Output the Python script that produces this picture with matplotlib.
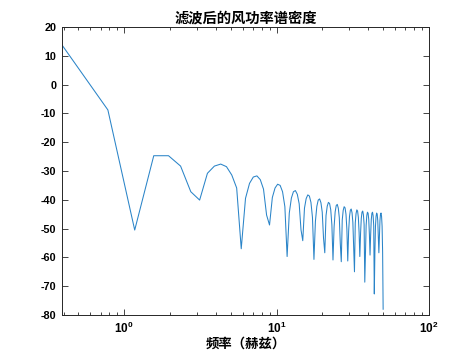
import numpy as np
import matplotlib
matplotlib.use('Agg')
import matplotlib.pyplot as plt

# filtered wind power spectral density, one value per frequency bin (dB)
fs = 100.0
nfft = 256
psd_db = [13.75, -8.8, -50.5, -24.7, -24.7, -28.3, -37.2, -40.1, -30.8, -28.3,
          -27.6, -28.5, -31.4, -35.9, -57.0, -39.5, -34.3, -32.1, -31.7, -33.0,
          -36.3, -45.3, -48.75, -39.2, -35.9, -34.6, -35.0, -37.2, -42.4, -59.7,
          -44.6, -39.4, -37.2, -36.8, -38.1, -41.4, -50.4, -54.2, -42.9, -39.6,
          -38.3, -38.7, -40.9, -46.1, -60.7, -47.5, -42.3, -40.1, -39.7, -41.0,
          -44.3, -53.3, -58.4, -45.5, -42.2, -40.9, -41.3, -43.5, -48.7, -60.9,
          -49.4, -44.2, -42.0, -41.6, -42.9, -46.2, -55.2, -61.5, -47.0, -43.7,
          -42.4, -42.8, -45.0, -50.2, -61.25, -51.0, -45.8, -43.6, -43.2, -44.5,
          -47.8, -56.8, -65.0, -48.1, -44.8, -43.5, -43.9, -46.1, -51.3, -59.7,
          -51.7, -46.5, -44.3, -43.9, -45.2, -48.5, -68.6, -57.9, -48.9, -45.5,
          -44.3, -44.7, -46.9, -52.1, -59.2, -52.1, -46.9, -44.7, -44.3, -45.5,
          -48.9, -72.7, -58.2, -49.2, -45.8, -44.6, -45.0, -47.2, -52.4, -58.4,
          -52.4, -47.2, -45.0, -44.6, -45.8, -49.2, -58.2, -78.0]
freq = np.arange(1, len(psd_db) + 1) * fs / nfft

xticks = [1, 10, 100]
xticklabels = ['$10^0$', '$10^1$', '$10^2$']
yticks = list(range(-80, 21, 10))

plt.rcParams['font.family'] = ['Liberation Sans', 'Noto Sans CJK SC', 'DejaVu Sans']
plt.rcParams['mathtext.fontset'] = 'custom'
plt.rcParams['mathtext.rm'] = 'Liberation Sans:bold'
plt.rcParams['mathtext.it'] = 'Liberation Sans:bold'
plt.rcParams['mathtext.default'] = 'rm'

fig = plt.figure(figsize=(4.74, 3.55), dpi=100)
ax = fig.add_axes([0.1308, 0.1127, 0.7743, 0.8113])
ax.semilogx(freq, psd_db, color='#2a84c8', linewidth=0.75)

ax.set_xlim(fs / nfft, 100)
ax.set_ylim(-80, 20)
ax.set_xticks(xticks)
ax.set_xticklabels(xticklabels, fontsize=8.5)
ax.set_yticks(yticks)
ax.set_yticklabels([str(v) for v in yticks], fontsize=7.8, fontweight='bold')

for s in ax.spines.values():
    s.set_color('#262626')
    s.set_linewidth(0.7)
ax.tick_params(which='both', direction='in', top=True, right=True, colors='#262626', width=0.6)
ax.tick_params(which='major', length=4, pad=4, labelcolor='black')
ax.tick_params(which='minor', length=2)

ax.set_title('滤波后的风功率谱密度', fontsize=10.3, fontweight='bold',
             family=['Noto Sans CJK SC'], pad=3)
ax.set_xlabel('频率（赫兹）', fontsize=9.6, fontweight='bold',
              family=['Noto Sans CJK SC'], labelpad=1)

fig.savefig('out.png', dpi=100)
